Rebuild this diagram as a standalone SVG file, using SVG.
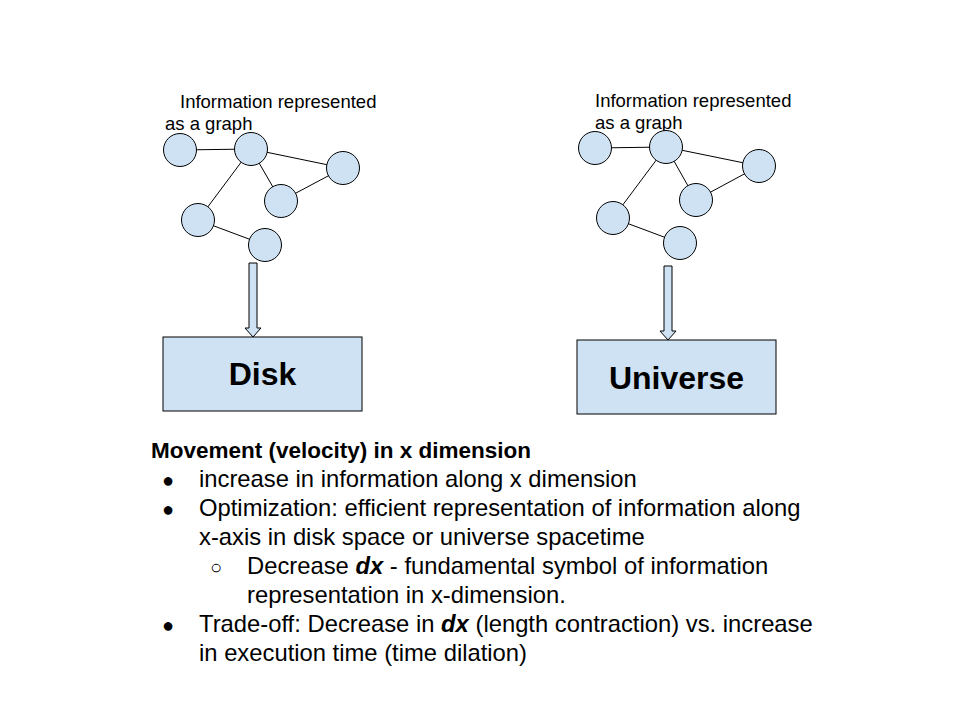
<svg xmlns="http://www.w3.org/2000/svg" width="960" height="720" viewBox="0 0 960 720">
<style>
text{font-family:"Liberation Sans",Arial,sans-serif;fill:#000}
.n{fill:#cfe2f3;stroke:#000;stroke-width:1}
.e{stroke:#000;stroke-width:1;fill:none}
.lbl{font-size:18.5px}
.box{fill:#cfe2f3;stroke:#000;stroke-width:1}
.bt{font-size:32px;font-weight:bold}
.t{font-size:23.8px}
</style>
<rect width="960" height="720" fill="#fff"/>
<g id="left-graph">
<text class="lbl" x="180" y="108">Information represented</text>
<text class="lbl" x="165" y="130">as a graph</text>
<g class="e"><line x1="180" y1="150" x2="251" y2="149"/><line x1="251" y1="149" x2="343" y2="168"/><line x1="251" y1="149" x2="281" y2="201"/><line x1="251" y1="149" x2="198" y2="220"/><line x1="281" y1="201" x2="343" y2="168"/><line x1="198" y1="220" x2="265" y2="245"/></g>
<circle class="n" cx="180" cy="150" r="16.5"/><circle class="n" cx="251" cy="149" r="16.5"/><circle class="n" cx="343" cy="168" r="16.5"/><circle class="n" cx="281" cy="201" r="16.5"/><circle class="n" cx="198" cy="220" r="16.5"/><circle class="n" cx="265" cy="245" r="16.5"/>
</g>
<g id="right-graph">
<text class="lbl" x="595" y="107">Information represented</text>
<text class="lbl" x="595" y="129">as a graph</text>
<g class="e"><line x1="595" y1="148" x2="666" y2="147"/><line x1="666" y1="147" x2="759" y2="166"/><line x1="666" y1="147" x2="696" y2="200"/><line x1="666" y1="147" x2="613" y2="218"/><line x1="696" y1="200" x2="759" y2="166"/><line x1="613" y1="218" x2="680" y2="243"/></g>
<circle class="n" cx="595" cy="148" r="16.5"/><circle class="n" cx="666" cy="147" r="16.5"/><circle class="n" cx="759" cy="166" r="16.5"/><circle class="n" cx="696" cy="200" r="16.5"/><circle class="n" cx="613" cy="218" r="16.5"/><circle class="n" cx="680" cy="243" r="16.5"/>
</g>
<g id="connectors">
<path class="n" d="M249,263 H257 V328 H261 L253,337 L245,328 H249 Z"/>
<path class="n" d="M664,266 H672 V331 H676 L668,340 L660,331 H664 Z"/>
</g>
<g id="disk"><rect class="box" x="163" y="337" width="199" height="74"/><text class="bt" x="262.5" y="385" text-anchor="middle">Disk</text></g>
<g id="universe"><rect class="box" x="577" y="340" width="199" height="74"/><text class="bt" x="676.5" y="389" text-anchor="middle">Universe</text></g>
<g id="notes" class="t">
<text x="151" y="458" font-weight="bold" font-size="22.5">Movement (velocity) in x dimension</text>
<text x="162" y="487" font-size="20">●</text><text x="199" y="487">increase in information along x dimension</text>
<text x="162" y="516" font-size="20">●</text><text x="199" y="516">Optimization: efficient representation of information along</text>
<text x="199" y="545">x-axis in disk space or universe spacetime</text>
<text x="210" y="574" font-size="20">○</text><text x="247" y="574">Decrease <tspan font-weight="bold" font-style="italic">dx</tspan> - fundamental symbol of information</text>
<text x="247" y="603">representation in x-dimension.</text>
<text x="162" y="632" font-size="20">●</text><text x="199" y="632">Trade-off: Decrease in <tspan font-weight="bold" font-style="italic">dx</tspan> (length contraction) vs. increase</text>
<text x="199" y="661">in execution time (time dilation)</text>
</g>
</svg>
